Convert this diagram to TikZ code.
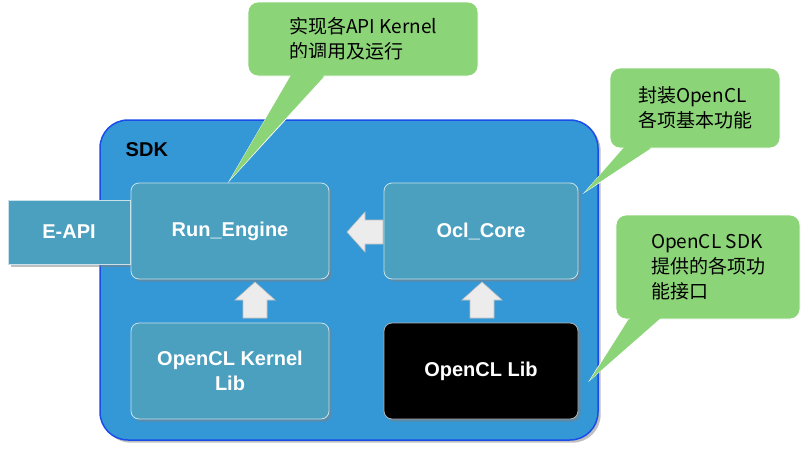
\documentclass[tikz,border=0pt]{standalone}
\usepackage{fontspec}
\setmainfont{Liberation Sans}
\newfontfamily\cjk{Noto Sans CJK SC}
\usetikzlibrary{shadows}
\definecolor{sdkblue}{RGB}{52,152,214}
\definecolor{boxteal}{RGB}{74,160,190}
\definecolor{calloutgreen}{RGB}{140,212,120}
\begin{document}
\begin{tikzpicture}[x=1pt,y=-1pt,thick,
    block/.style={draw=white!70!boxteal,rounded corners=8pt,fill=boxteal,text=white,font=\bfseries\fontsize{20}{25}\selectfont,align=center,minimum width=198pt,minimum height=96pt,drop shadow},
    callout/.style={draw=white,rounded corners=10pt,fill=calloutgreen,align=left,font=\cjk\fontsize{19}{25}\selectfont},
    fatarrow/.style={draw=gray!50,fill=white!85!gray,line width=0.6pt}]
  \useasboundingbox (0,0) rectangle (801,451);
  % sdk frame
  \node[draw=blue!50!sdkblue,line width=1.5pt,rounded corners=28pt,fill=sdkblue,minimum width=498pt,minimum height=320pt,drop shadow] (sdk) at (349,280) {};
  \node[font=\bfseries\fontsize{20}{24}\selectfont,anchor=west] (sdklabel) at (122,150) {SDK};
  \node[block,minimum width=122pt,minimum height=64pt,rounded corners=0pt] (eapi) at (69,232) {E-API};
  \node[block] (run) at (230,231) {Run\_Engine};
  \node[block,minimum width=194pt] (ocl) at (481,231) {Ocl\_Core};
  \node[block] (kernel) at (230,371) {OpenCL Kernel\\Lib};
  \node[block,minimum width=194pt,fill=black,draw=gray!60] (lib) at (481,371) {OpenCL Lib};
  % arrows
  \foreach \ax in {255,482}
    \draw[fatarrow] (\ax-12,318) -- (\ax-12,300) -- (\ax-20,300) -- (\ax,282)
      -- (\ax+20,300) -- (\ax+12,300) -- (\ax+12,318) -- cycle;
  \draw[fatarrow] (383,220) -- (365,220) -- (365,212) -- (347,232)
    -- (365,252) -- (365,244) -- (383,244) -- cycle;
  % callouts
  \coordinate (p1) at (230,180);
  \coordinate (p2) at (585,192);
  \coordinate (p3) at (590,380);
  \fill[calloutgreen,draw=white] (p1) -- (300,60) -- (340,60) -- cycle;
  \node[callout,minimum width=230pt,minimum height=74pt] (c1) at (363,39) {实现各API Kernel\\的调用及运行};
  \fill[calloutgreen,draw=white] (p2) -- (640,130) -- (680,130) -- cycle;
  \node[callout,minimum width=170pt,minimum height=80pt] (c2) at (695,108) {封装OpenCL\\各项基本功能};
  \fill[calloutgreen,draw=white] (p3) -- (640,300) -- (680,300) -- cycle;
  \node[callout,minimum width=184pt,minimum height=104pt] (c3) at (708,267) {OpenCL SDK\\提供的各项功\\能接口};
  \fill[calloutgreen] (p1) -- (301,58) -- (339,58) -- cycle;
  \fill[calloutgreen] (p2) -- (641,128) -- (679,128) -- cycle;
  \fill[calloutgreen] (p3) -- (641,302) -- (679,302) -- cycle;
\end{tikzpicture}
\end{document}
